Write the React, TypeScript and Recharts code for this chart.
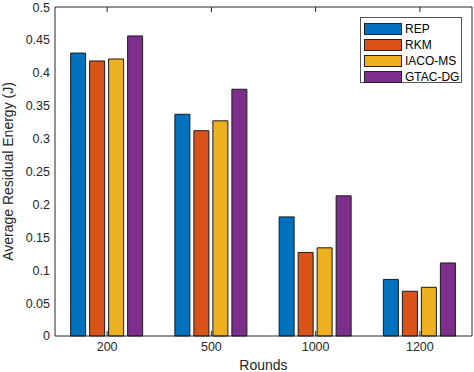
import { BarChart, Bar, XAxis, YAxis } from 'recharts';

const rounds = ['200', '500', '1000', '1200'];
const rep = [0.43, 0.337, 0.181, 0.086];
const rkm = [0.418, 0.312, 0.127, 0.068];
const iacoMs = [0.421, 0.327, 0.134, 0.074];
const gtacDg = [0.456, 0.375, 0.213, 0.111];
const yTicks = [0, 0.05, 0.1, 0.15, 0.2, 0.25, 0.3, 0.35, 0.4, 0.45, 0.5];

const series = [
  { key: 'REP', values: rep, color: '#0072BD' },
  { key: 'RKM', values: rkm, color: '#D95319' },
  { key: 'IACO-MS', values: iacoMs, color: '#EDB120' },
  { key: 'GTAC-DG', values: gtacDg, color: '#7E2F8E' },
];

const data = rounds.map((r, i) => {
  const row: Record<string, string | number> = { round: r };
  series.forEach((s) => {
    row[s.key] = s.values[i];
  });
  return row;
});

const ink = '#262626';
const font = 'Liberation Sans, Arial, sans-serif';

function LegendBox() {
  return (
    <div
      style={{
        position: 'absolute',
        left: 360,
        top: 17,
        width: 100,
        height: 64,
        border: '1px solid #555',
        background: '#fff',
        fontFamily: font,
        fontSize: 12,
        color: '#000',
      }}
    >
      {series.map((s, i) => (
        <div
          key={s.key}
          style={{ position: 'absolute', left: 3, top: 4 + i * 16, height: 13, display: 'flex', alignItems: 'center' }}
        >
          <div style={{ width: 36, height: 10, background: s.color, border: '1px solid #222' }} />
          <span style={{ marginLeft: 3 }}>{s.key}</span>
        </div>
      ))}
    </div>
  );
}

export default function App() {
  const empty = () => '';
  return (
    <div style={{ position: 'absolute', left: 0, top: 0, width: 474, height: 372, background: '#fff' }}>
      <BarChart
        width={474}
        height={372}
        data={data}
        margin={{ top: 7, right: 2, bottom: 0, left: 0 }}
        barCategoryGap="15%"
        barGap={4}
      >
        <XAxis
          xAxisId="main"
          dataKey="round"
          height={36}
          tickLine={false}
          tickSize={0}
          tickMargin={6}
          stroke={ink}
          tick={{ fill: ink, fontSize: 12.5, fontFamily: font }}
          label={{ value: 'Rounds', position: 'insideBottom', offset: 2, fill: ink, fontSize: 14, fontFamily: font }}
        />
        <XAxis xAxisId="bottomTicks" dataKey="round" mirror tickSize={5} axisLine={false} stroke={ink} tickFormatter={empty} />
        <XAxis xAxisId="top" dataKey="round" orientation="top" mirror tickSize={5} stroke={ink} tickFormatter={empty} />
        <YAxis
          yAxisId="main"
          width={55}
          domain={[0, 0.5]}
          ticks={yTicks}
          tickLine={false}
          tickSize={0}
          tickMargin={5}
          stroke={ink}
          tick={{ fill: ink, fontSize: 12.5, fontFamily: font }}
          label={{
            value: 'Average Residual Energy (J)',
            angle: -90,
            position: 'insideLeft',
            offset: 8,
            fill: ink,
            fontSize: 14,
            fontFamily: font,
            style: { textAnchor: 'middle' },
          }}
        />
        <YAxis yAxisId="leftTicks" domain={[0, 0.5]} ticks={yTicks} mirror tickSize={5} axisLine={false} stroke={ink} tickFormatter={empty} />
        <YAxis yAxisId="right" orientation="right" domain={[0, 0.5]} ticks={yTicks} mirror tickSize={5} stroke={ink} tickFormatter={empty} />
        {series.map((s) => (
          <Bar
            key={s.key}
            xAxisId="main"
            yAxisId="main"
            dataKey={s.key}
            fill={s.color}
            stroke="#1a1a1a"
            strokeWidth={1}
            isAnimationActive={false}
          />
        ))}
      </BarChart>
      <LegendBox />
    </div>
  );
}
